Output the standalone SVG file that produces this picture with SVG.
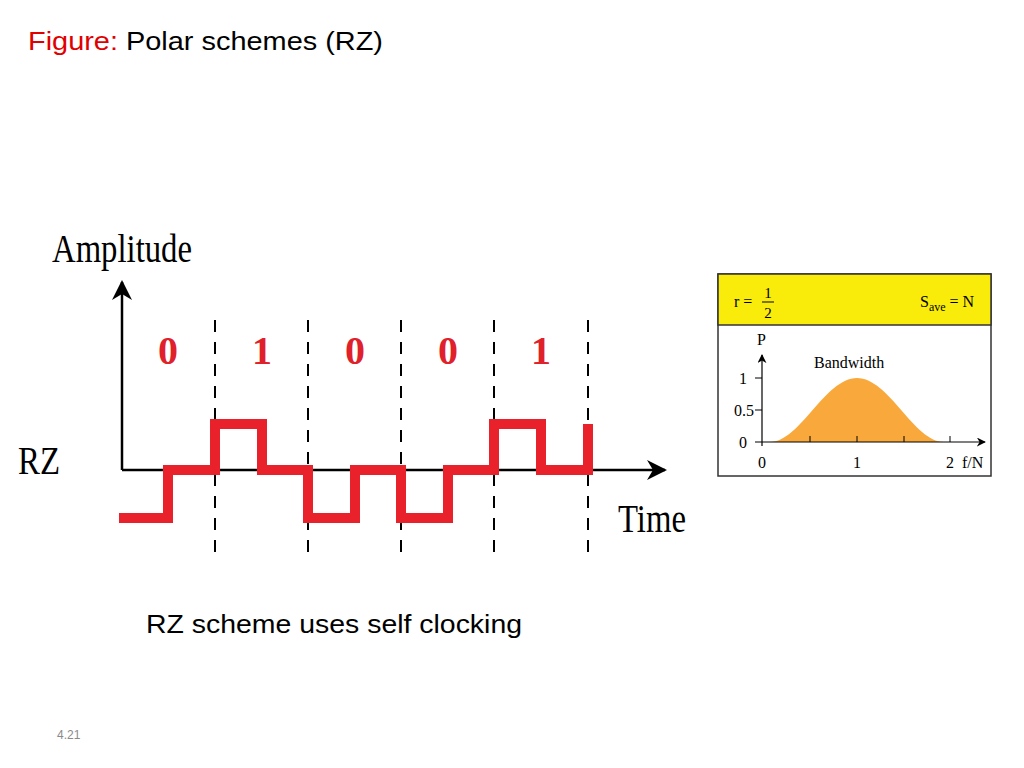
<svg xmlns="http://www.w3.org/2000/svg" width="1024" height="768" viewBox="0 0 1024 768">
<style>
.s{font-family:"Liberation Sans",Arial,sans-serif}
.t{font-family:"Liberation Serif","Times New Roman",serif}
.d{stroke:#000;stroke-width:2;stroke-dasharray:12,10}
.bit{font-family:"Liberation Serif",serif;font-weight:bold;font-size:40px;fill:#e0202a;text-anchor:middle}
</style>
<defs>
<marker id="a" viewBox="0 0 10 10" refX="9" refY="5" markerWidth="9" markerHeight="9" orient="auto" markerUnits="userSpaceOnUse"><path d="M0,0 L10,5 L0,10 L3,5z" fill="#000"/></marker>
<marker id="b" viewBox="0 0 10 10" refX="9" refY="5" markerWidth="20" markerHeight="20" orient="auto" markerUnits="userSpaceOnUse"><path d="M0,0 L10,5 L0,10 L3,5z" fill="#000"/></marker>
</defs>
<rect width="1024" height="768" fill="#fff"/>
<text x="28" y="50" class="s" font-size="26" textLength="355" lengthAdjust="spacingAndGlyphs"><tspan fill="#e00000">Figure:</tspan><tspan fill="#000">  Polar schemes (RZ)</tspan></text>
<g id="diagram">
<text x="52" y="262" class="t" font-size="40" textLength="140" lengthAdjust="spacingAndGlyphs">Amplitude</text>
<text x="18" y="474" class="t" font-size="40" textLength="42" lengthAdjust="spacingAndGlyphs">RZ</text>
<text x="618" y="532" class="t" font-size="40" textLength="68" lengthAdjust="spacingAndGlyphs">Time</text>
<g id="connectors">
<line x1="122" y1="470" x2="122" y2="282" stroke="#000" stroke-width="2.5" marker-end="url(#b)"/>
<line x1="122" y1="470" x2="665" y2="470" stroke="#000" stroke-width="2.5" marker-end="url(#b)"/>
<g class="d"><line x1="215" y1="320" x2="215" y2="555"/><line x1="308" y1="320" x2="308" y2="555"/><line x1="401" y1="320" x2="401" y2="555"/><line x1="494" y1="320" x2="494" y2="555"/><line x1="588" y1="320" x2="588" y2="555"/></g>
</g>
<text x="168" y="364" class="bit">0</text><text x="262" y="364" class="bit">1</text><text x="355" y="364" class="bit">0</text><text x="448" y="364" class="bit">0</text><text x="541" y="364" class="bit">1</text>
<path d="M119,518 H168 V470 H215 V424 H262 V470 H308 V518 H355 V470 H401 V518 H448 V470 H494 V424 H541 V470 H588 V424" fill="none" stroke="#e8212b" stroke-width="10"/>
</g>
<g id="box">
<rect x="718" y="274" width="273" height="202" fill="#fff" stroke="#333" stroke-width="1.5"/>
<rect x="718" y="274" width="273" height="51" fill="#f9ec0a" stroke="#333" stroke-width="1.5"/>
<text x="734" y="307" class="t" font-size="16">r =</text>
<text x="768" y="298" class="t" font-size="15" text-anchor="middle">1</text>
<line x1="762" y1="302" x2="774" y2="302" stroke="#000"/>
<text x="768" y="318" class="t" font-size="15" text-anchor="middle">2</text>
<text x="920" y="307" class="t" font-size="16">S<tspan font-size="12" dy="4">ave</tspan><tspan dy="-4"> = N</tspan></text>
<path d="M770,442 C800,442 825,378 857,378 C889,378 914,442 944,442 Z" fill="#f9a93b"/>
<line x1="762" y1="446" x2="762" y2="355" stroke="#000" stroke-width="1.2" marker-end="url(#a)"/>
<line x1="755" y1="442" x2="985" y2="442" stroke="#000" stroke-width="1.2" marker-end="url(#a)"/>
<g stroke="#000" stroke-width="1"><line x1="755" y1="378" x2="762" y2="378"/><line x1="755" y1="410" x2="762" y2="410"/><line x1="810" y1="442" x2="810" y2="436"/><line x1="857" y1="442" x2="857" y2="436"/><line x1="904" y1="442" x2="904" y2="436"/><line x1="950" y1="442" x2="950" y2="436"/></g>
<g class="t" font-size="16">
<text x="757" y="345">P</text>
<text x="814" y="368">Bandwidth</text>
<text x="747" y="384" text-anchor="end">1</text>
<text x="754" y="416" text-anchor="end">0.5</text>
<text x="747" y="448" text-anchor="end">0</text>
<text x="762" y="468" text-anchor="middle">0</text>
<text x="857" y="468" text-anchor="middle">1</text>
<text x="950" y="468" text-anchor="middle">2</text>
<text x="962" y="468">f/N</text>
</g>
</g>
<text x="146" y="633" class="s" font-size="26" textLength="376" lengthAdjust="spacingAndGlyphs" fill="#000">RZ scheme uses self clocking</text>
<text x="57" y="739" class="s" font-size="12" fill="#8a8a8a">4.21</text>
</svg>
